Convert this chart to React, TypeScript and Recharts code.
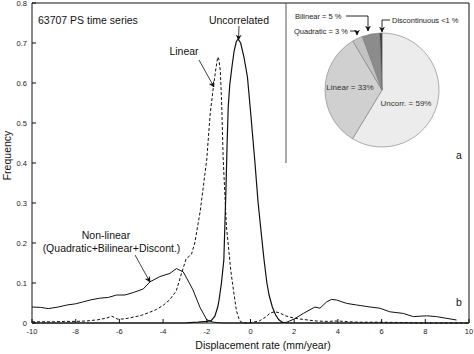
import React from 'react';
import { LineChart, Line, XAxis, YAxis, PieChart, Pie, Cell } from 'recharts';

const xTicks = [-10, -8, -6, -4, -2, 0, 2, 4, 6, 8, 10];
const yTicks = [0, 0.1, 0.2, 0.3, 0.4, 0.5, 0.6, 0.7, 0.8];

const uncorrelated: [number, number][] = [
  [-10, 0], [-6, 0], [-3, 0], [-2.8, 0.001], [-2.4, 0.002], [-2.0, 0.004], [-1.8, 0.006],
  [-1.63, 0.017], [-1.5, 0.04], [-1.44, 0.057], [-1.33, 0.1], [-1.22, 0.158], [-1.17, 0.25],
  [-1.12, 0.34], [-1.07, 0.45], [-1.02, 0.54], [-0.95, 0.595], [-0.85, 0.64], [-0.75, 0.68],
  [-0.65, 0.703], [-0.57, 0.71], [-0.45, 0.7], [-0.3, 0.665], [-0.14, 0.615], [0.0, 0.53],
  [0.19, 0.41], [0.35, 0.3], [0.5, 0.22], [0.62, 0.158], [0.75, 0.1], [0.85, 0.07],
  [1.0, 0.04], [1.15, 0.02], [1.3, 0.008], [1.45, 0.002], [1.6, 0], [4, 0], [10, 0],
];

const linear: [number, number][] = [
  [-10, 0.003], [-9, 0.003], [-8.5, 0.004], [-8, 0.004], [-7.5, 0.005], [-7, 0.008],
  [-6.6, 0.012], [-6.35, 0.017], [-6.1, 0.01], [-5.8, 0.01], [-5.5, 0.013], [-5, 0.019],
  [-4.6, 0.027], [-4.3, 0.034], [-4, 0.044], [-3.7, 0.058], [-3.4, 0.08], [-3.15, 0.125],
  [-2.95, 0.16], [-2.7, 0.172], [-2.55, 0.2], [-2.3, 0.28], [-2.0, 0.41], [-1.85, 0.52],
  [-1.7, 0.59], [-1.6, 0.63], [-1.5, 0.665], [-1.45, 0.66], [-1.38, 0.63], [-1.32, 0.55],
  [-1.25, 0.41], [-1.1, 0.24], [-0.9, 0.13], [-0.75, 0.07], [-0.64, 0.03], [-0.5, 0.006],
  [-0.35, 0], [0, 0.001], [0.4, 0.005], [0.7, 0.015], [0.9, 0.025], [1.1, 0.028],
  [1.3, 0.026], [1.6, 0.018], [2.0, 0.012], [2.4, 0.009], [3, 0.005], [3.5, 0.004],
  [4, 0.005], [4.5, 0.003], [5, 0.002], [6, 0.002], [7, 0.001], [8, 0], [10, 0],
];

const nonLinear: [number, number][] = [
  [-10, 0.04], [-9.6, 0.039], [-9.25, 0.036], [-8.8, 0.04], [-8.4, 0.045], [-8.0, 0.048],
  [-7.65, 0.053], [-7.3, 0.058], [-6.9, 0.062], [-6.5, 0.064], [-6.13, 0.07], [-5.75, 0.07],
  [-5.37, 0.076], [-4.91, 0.085], [-4.6, 0.103], [-4.15, 0.116], [-3.69, 0.124],
  [-3.39, 0.136], [-3.08, 0.128], [-2.85, 0.105], [-2.63, 0.0825], [-2.32, 0.04],
  [-2.0, 0.008], [-1.7, 0.002], [-1.3, 0], [1.4, 0], [1.66, 0.002], [2.0, 0.01],
  [2.42, 0.024], [2.95, 0.04], [3.18, 0.037], [3.49, 0.053], [3.71, 0.059], [3.94, 0.0575],
  [4.4, 0.049], [4.86, 0.045], [5.47, 0.04], [5.92, 0.037], [6.38, 0.028], [6.99, 0.024],
  [7.45, 0.016], [8.06, 0.018], [8.51, 0.016], [9.43, 0.0075],
];

const pieCategories = ['Uncorr.', 'Linear', 'Quadratic', 'Bilinear', 'Discontinuous'];
const pieValues = [59, 33, 3, 5, 0.6];
const pieColors = ['#ececec', '#d0d0d0', '#c2c2c2', '#8c8c8c', '#2a2a2a'];

const toPoints = (s: [number, number][]) => s.map(([x, y]) => ({ x, y }));
const pieData = pieCategories.map((name, i) => ({ name, value: pieValues[i] }));

const FONT = '"Liberation Sans", Arial, Helvetica, sans-serif';
const TICK_LEN = 4;
const INK = '#111';

// custom ticks: lines drawn inward from the axis, labels outside
const BottomTick = (props: any) => {
  const { x, y, payload } = props;
  return (
    <g>
      <line x1={x} y1={y} x2={x} y2={y - TICK_LEN} stroke={INK} strokeWidth={1} />
      <text x={x} y={y + 8} fontSize={7.5} fill="#222" textAnchor="middle" dominantBaseline="central" fontFamily={FONT}>
        {payload.value}
      </text>
    </g>
  );
};
const TopTick = (props: any) => {
  const { x, y } = props;
  return <line x1={x} y1={y} x2={x} y2={y + TICK_LEN} stroke={INK} strokeWidth={1} />;
};
const LeftTick = (props: any) => {
  const { x, y, payload } = props;
  return (
    <g>
      <line x1={x} y1={y} x2={x + TICK_LEN} y2={y} stroke={INK} strokeWidth={1} />
      <text x={x - 5} y={y} fontSize={7.5} fill="#222" textAnchor="end" dominantBaseline="central" fontFamily={FONT}>
        {payload.value}
      </text>
    </g>
  );
};
const RightTick = (props: any) => {
  const { x, y } = props;
  return <line x1={x} y1={y} x2={x - TICK_LEN} y2={y} stroke={INK} strokeWidth={1} />;
};

export default function App() {
  return (
    <div style={{ position: 'absolute', left: 0, top: 0, width: 474, height: 354, background: '#fff', fontFamily: FONT }}>
      <LineChart width={474} height={354} margin={{ top: 2, right: 4, bottom: 0, left: 0 }}>
        <XAxis
          xAxisId="b"
          dataKey="x"
          type="number"
          domain={[-10, 10]}
          ticks={xTicks}
          allowDataOverflow
          height={31}
          tickSize={0}
          tickMargin={0}
          axisLine={{ stroke: INK }}
          tickLine={false}
          tick={<BottomTick />}
          interval={0}
        />
        <XAxis
          xAxisId="t"
          orientation="top"
          type="number"
          domain={[-10, 10]}
          ticks={xTicks}
          height={1}
          tickSize={0}
          tickMargin={0}
          axisLine={{ stroke: INK }}
          tickLine={false}
          tick={<TopTick />}
          interval={0}
        />
        <YAxis
          yAxisId="l"
          type="number"
          domain={[0, 0.8]}
          ticks={yTicks}
          width={32}
          tickSize={0}
          tickMargin={0}
          axisLine={{ stroke: INK }}
          tickLine={false}
          tick={<LeftTick />}
          interval={0}
        />
        <YAxis
          yAxisId="r"
          orientation="right"
          type="number"
          domain={[0, 0.8]}
          ticks={yTicks}
          width={1}
          tickSize={0}
          tickMargin={0}
          axisLine={{ stroke: INK }}
          tickLine={false}
          tick={<RightTick />}
          interval={0}
        />
        <Line
          xAxisId="b"
          yAxisId="l"
          data={toPoints(nonLinear)}
          dataKey="y"
          type="linear"
          stroke={INK}
          strokeWidth={1}
          dot={false}
          isAnimationActive={false}
        />
        <Line
          xAxisId="b"
          yAxisId="l"
          data={toPoints(linear)}
          dataKey="y"
          type="linear"
          stroke={INK}
          strokeWidth={1}
          strokeDasharray="3 2"
          dot={false}
          isAnimationActive={false}
        />
        <Line
          xAxisId="b"
          yAxisId="l"
          data={toPoints(uncorrelated)}
          dataKey="y"
          type="linear"
          stroke={INK}
          strokeWidth={1.2}
          dot={false}
          isAnimationActive={false}
        />
      </LineChart>

      <div style={{ position: 'absolute', left: 286, top: 3 }}>
        <PieChart width={183} height={160} margin={{ top: 0, right: 0, bottom: 0, left: 0 }}>
          <Pie
            data={pieData}
            dataKey="value"
            nameKey="name"
            cx={96}
            cy={87}
            outerRadius={57}
            startAngle={90}
            endAngle={-270}
            stroke="#7a7a7a"
            strokeWidth={0.6}
            isAnimationActive={false}
          >
            {pieData.map((d, i) => (
              <Cell key={d.name} fill={pieColors[i]} />
            ))}
          </Pie>
        </PieChart>
      </div>

      <svg width={474} height={354} style={{ position: 'absolute', left: 0, top: 0, pointerEvents: 'none' }} fontFamily={FONT}>
        <defs>
          <marker id="ah" viewBox="0 0 10 10" refX="9" refY="5" markerWidth="6" markerHeight="6" markerUnits="userSpaceOnUse" orient="auto">
            <path d="M0,0 L10,5 L0,10 L3,5 z" fill={INK} />
          </marker>
        </defs>
        <text x={38} y={19.5} fontSize={10.5} fill={INK} dominantBaseline="central">63707 PS time series</text>
        <text x={239} y={19.5} fontSize={10.5} fill={INK} textAnchor="middle" dominantBaseline="central">Uncorrelated</text>
        <line x1={239} y1={26} x2={238.5} y2={40} stroke={INK} strokeWidth={0.8} markerEnd="url(#ah)" />
        <text x={184} y={51} fontSize={10.5} fill={INK} textAnchor="middle" dominantBaseline="central">Linear</text>
        <line x1={199} y1={60} x2={214} y2={87} stroke={INK} strokeWidth={0.8} markerEnd="url(#ah)" />
        <text x={106} y={235} fontSize={10.5} fill={INK} textAnchor="middle" dominantBaseline="central">Non-linear</text>
        <text x={111.5} y={248} fontSize={10.5} fill={INK} textAnchor="middle" dominantBaseline="central">(Quadratic+Bilinear+Discont.)</text>
        <line x1={135} y1={255} x2={150} y2={282} stroke={INK} strokeWidth={0.8} markerEnd="url(#ah)" />
        <text x={7} y={155.5} fontSize={10.5} fill={INK} textAnchor="middle" dominantBaseline="central" transform="rotate(-90 7 155.5)">Frequency</text>
        <text x={263} y={345} fontSize={10.5} fill={INK} textAnchor="middle" dominantBaseline="central">Displacement rate (mm/year)</text>
        <text x={459} y={155} fontSize={10.5} fill={INK} textAnchor="middle" dominantBaseline="central">a</text>
        <text x={459} y={302} fontSize={10.5} fill={INK} textAnchor="middle" dominantBaseline="central">b</text>
        <line x1={286} y1={3} x2={286} y2={163} stroke="#555" strokeWidth={1} />

        <text x={295} y={16} fontSize={7.5} fill="#222" dominantBaseline="central">Bilinear = 5 %</text>
        <polyline points="346,16 368,16 368,31" fill="none" stroke={INK} strokeWidth={0.9} markerEnd="url(#ah)" />
        <text x={294} y={31} fontSize={7.5} fill="#222" dominantBaseline="central">Quadratic = 3 %</text>
        <polyline points="350,31 357,31 357,35" fill="none" stroke={INK} strokeWidth={0.9} markerEnd="url(#ah)" />
        <text x={392} y={20} fontSize={7.5} fill="#222" dominantBaseline="central">Discontinuous &lt;1 %</text>
        <polyline points="390,20 382,20 382,32" fill="none" stroke={INK} strokeWidth={0.9} markerEnd="url(#ah)" />
        <text x={350} y={87} fontSize={8} fill="#333" textAnchor="middle" dominantBaseline="central">Linear = 33%</text>
        <text x={406} y={103} fontSize={8} fill="#333" textAnchor="middle" dominantBaseline="central">Uncorr. = 59%</text>
      </svg>
    </div>
  );
}
